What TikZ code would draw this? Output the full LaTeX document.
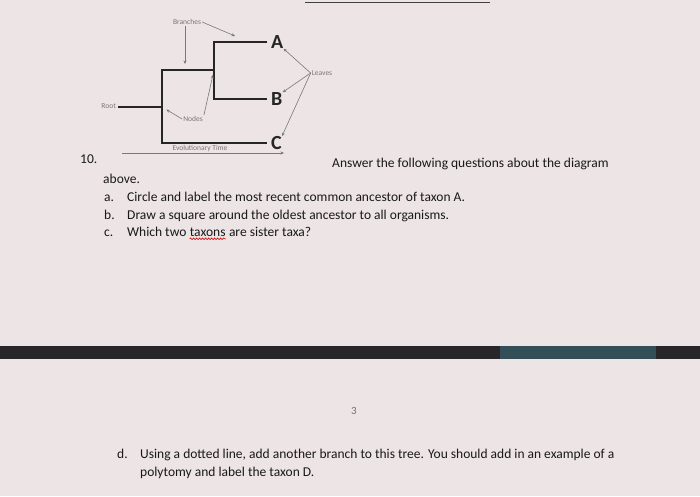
\documentclass[tikz,border=0pt]{standalone}
\usepackage{fontspec}
\setmainfont{Carlito}
\usetikzlibrary{arrows.meta,decorations.pathmorphing}
\definecolor{screen}{RGB}{236,228,229}
\definecolor{band}{RGB}{40,38,40}
\definecolor{bandblue}{RGB}{52,78,88}
\definecolor{inkgray}{RGB}{120,120,125}
\begin{document}
\begin{tikzpicture}[x=1pt,y=-1pt,
    branch/.style={line width=2.6pt,black!85},
    note/.style={font=\fontsize{7.5}{8}\selectfont,text=inkgray,inner sep=1pt},
    pointer/.style={inkgray,line width=0.6pt,-{Stealth[length=3.5pt,width=3pt]}},
    taxon/.style={font=\fontsize{20}{22}\selectfont\bfseries,text=black!85,inner sep=0pt,anchor=west},
    txt/.style={font=\fontsize{13.5}{15}\selectfont,text=black!90,anchor=base west,inner sep=0pt}]
                \fill [screen] (0,0) rectangle (700,496);
                \useasboundingbox (0,0) rectangle (700,496);
                \draw [black!75,line width=0.8pt] (305,2)--(490,2);
                \coordinate (root) at (118,107);
                \coordinate (n1) at (162,107);
                \coordinate (n2) at (214,70);
                \node [taxon] (A) at (271,42) {A};
                \node [taxon] (B) at (271,99) {B};
                \node [taxon] (C) at (271,143) {C};
                \draw [branch] (root)--(n1);
                \draw [branch,shorten <=4pt,shorten >=4pt] (A.west) -| (n2) |- (B.west);
                \draw [branch,shorten >=4pt] (n2) -| (n1) |- (C.west);
                \node [note] (branches) at (187,22) {Branches};
                \node [note] (leaves) at (322,73) {Leaves};
                \node [note] (nodes) at (193,119) {Nodes};
                \node [note,anchor=east] (rootlbl) at (117,106) {Root};
                \coordinate (brA) at (235,36);
                \coordinate (brU) at (185,64);
                \draw [pointer] (branches.east)--(brA);
                \draw [pointer] (branches.south -| brU)--(brU);
                \draw [pointer] (leaves.west)--(A.south east);
                \draw [pointer] (leaves.west)--(B.north east);
                \draw [pointer] (leaves.west)--(C.north east);
                \draw [pointer,shorten >=5pt] (nodes.west)--(n1);
                \draw [pointer,shorten >=5pt] (nodes.north east)--(n2);
                \coordinate (t0) at (122,153);
                \coordinate (t1) at (284,153);
                \draw [pointer] (t0)--(t1);
                \node [note,above] (time) at (200,153) {Evolutionary Time};
                \node [txt] (num) at (80,163) {10.};
                \node [txt] (q) at (332,167) {Answer the following questions about the diagram};
                \node [txt] (above) at (103,183) {above.};
                \node [txt] (la) at (104,201) {a.};
                \node [txt] (qa) at (127,201) {Circle and label the most recent common ancestor of taxon A.};
                \node [txt] (lb) at (104,219) {b.};
                \node [txt] (qb) at (127,219) {Draw a square around the oldest ancestor to all organisms.};
                \node [txt] (lc) at (104,236) {c.};
                \node [txt] (qc1) at (127,236) {Which two\ \mbox{}};
                \node [txt] (qc2) at (qc1.base east) {taxons};
                \node [txt] (qc3) at (qc2.base east) {\mbox{}\ are sister taxa?};
                \draw [red!80!black,line width=0.6pt,decorate,decoration={snake,amplitude=0.8pt,segment length=3pt}] ([yshift=-2.5pt]qc2.south west)--([yshift=-2.5pt]qc2.south east);
                \fill [band] (0,346) rectangle (700,359);
                \fill [bandblue] (500,346) rectangle (656,359);
                \node [txt,font=\fontsize{11}{12}\selectfont,text=black!55] (page) at (351,414) {3};
                \node [txt] (ld) at (117,458) {d.};
                \node [txt] (qd1) at (140,458) {Using a dotted line, add another branch to this tree. You should add in an example of a};
                \node [txt] (qd2) at (140,476) {polytomy and label the taxon D.};
            \end{tikzpicture}
\end{document}
